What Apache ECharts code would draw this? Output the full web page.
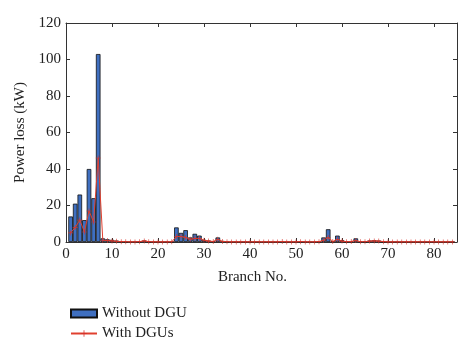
<!DOCTYPE html>
<html>
<head>
<meta charset="utf-8">
<script src="https://cdn.jsdelivr.net/npm/echarts@6/dist/echarts.min.js"></script>
<style>
  html, body { margin: 0; padding: 0; background: #fff; }
  #chart { width: 474px; height: 353px; }
</style>
</head>
<body>
<div id="chart"></div>
<script>
// branch numbers 1..84
var branches = [];
for (var i = 1; i <= 84; i++) branches.push(i);

// power loss without DGU (kW)
var lossNoDgu = [14, 21, 26, 12, 40, 24, 103, 2, 1.5, 1.2,
  0.8, 0.4, 0.2, 0.1, 0.1, 0.3, 0.8, 0.3, 0.1, 0.1,
  0.1, 0.1, 0.2, 8, 5, 6.5, 2.5, 4.5, 3.5, 1.2,
  0.8, 0.4, 2.5, 0.6, 0.2, 0.1, 0.1, 0.1, 0.1, 0.1,
  0.1, 0.1, 0.1, 0.1, 0.1, 0.1, 0.5, 0.1, 0.1, 0.1,
  0.3, 0.1, 0.1, 0.1, 0.3, 2.5, 7, 0.5, 3.5, 1,
  0.2, 0.5, 2, 0.3, 0.2, 0.8, 1, 0.8, 0.3, 0.1,
  0.1, 0.1, 0.1, 0.1, 0.1, 0.1, 0.1, 0.1, 0.1, 0.1,
  0.1, 0.1, 0.1, 0.1];

// power loss with DGUs (kW)
var lossDgu = [5, 8, 12, 5.5, 17, 11, 46, 1, 0.8, 0.6,
  0.4, 0.2, 0.1, 0.05, 0.05, 0.2, 0.6, 0.2, 0.05, 0.05,
  0.05, 0.05, 0.1, 3, 3, 2.5, 1.5, 2, 2, 1,
  0.5, 0.3, 1.5, 0.3, 0.1, 0.05, 0.05, 0.05, 0.05, 0.05,
  0.05, 0.05, 0.05, 0.05, 0.05, 0.05, 0.3, 0.05, 0.05, 0.05,
  0.2, 0.05, 0.05, 0.05, 0.2, 1, 2.5, 0.3, 1.5, 0.5,
  0.1, 0.3, 0.8, 0.1, 0.1, 0.5, 0.6, 0.5, 0.2, 0.05,
  0.05, 0.05, 0.05, 0.05, 0.05, 0.05, 0.05, 0.05, 0.05, 0.05,
  0.05, 0.05, 0.05, 0.05];

var xTicks = [0, 10, 20, 30, 40, 50, 60, 70, 80];
var yTicks = [0, 20, 40, 60, 80, 100, 120];

var font = 'Liberation Serif';
var plus = 'path://M-0.12,-1H0.12V1H-0.12Z M-1,-0.12H1V0.12H-1Z';

var myChart = echarts.init(document.getElementById('chart'));

var barData = branches.map(function(b, i) { return [b, lossNoDgu[i]]; });
var lineData = branches.map(function(b, i) { return [b, lossDgu[i]]; });

var axisCommon = {
  axisLine: { show: true, onZero: false, lineStyle: { color: '#333', width: 1 } },
  axisTick: { show: true, inside: true, length: 4, lineStyle: { color: '#333' } },
  splitLine: { show: false }
};

var option = {
  animation: false,
  textStyle: { fontFamily: font },
  grid: { left: 66, right: 17, top: 23, bottom: 111 },
  legend: {
    orient: 'vertical',
    left: 65,
    top: 301,
    itemWidth: 26,
    itemHeight: 8,
    itemGap: 5,
    textStyle: { fontFamily: font, fontSize: 15, color: '#222' },
    data: [
      { name: 'Without DGU', icon: 'rect' },
      { name: 'With DGUs' }
    ]
  },
  xAxis: [
    Object.assign({
      type: 'value', min: 0, max: 85, interval: 10,
      name: 'Branch No.', nameLocation: 'middle', nameGap: 28,
      nameTextStyle: { fontFamily: font, fontSize: 15, color: '#222', padding: [0, 18, 0, 0] },
      axisLabel: {
        fontFamily: font, fontSize: 15, color: '#222', margin: 5,
        formatter: function(v) { return xTicks.indexOf(v) >= 0 ? v : ''; }
      }
    }, axisCommon),
    Object.assign({
      type: 'value', min: 0, max: 85, interval: 10, position: 'top',
      axisLabel: { show: false }
    }, axisCommon)
  ],
  yAxis: [
    Object.assign({
      type: 'value', min: 0, max: 120, interval: 20,
      name: 'Power loss (kW)', nameLocation: 'middle', nameGap: 34,
      nameTextStyle: { fontFamily: font, fontSize: 15, color: '#222' },
      axisLabel: {
        fontFamily: font, fontSize: 15, color: '#222', margin: 5,
        formatter: function(v) { return yTicks.indexOf(v) >= 0 ? v : ''; }
      }
    }, axisCommon),
    Object.assign({
      type: 'value', min: 0, max: 120, interval: 20, position: 'right',
      axisLabel: { show: false }
    }, axisCommon)
  ],
  series: [
    {
      name: 'Without DGU',
      type: 'bar',
      data: barData,
      barWidth: 4.6,
      itemStyle: { color: '#3f6fc0', borderColor: '#111', borderWidth: 0.8 }
    },
    {
      name: 'With DGUs',
      type: 'line',
      data: lineData,
      symbol: plus,
      symbolSize: 5,
      showAllSymbol: true,
      lineStyle: { color: '#e0402f', width: 1 },
      itemStyle: { color: '#d6332a' }
    }
  ]
};

myChart.setOption(option);
</script>
</body>
</html>
